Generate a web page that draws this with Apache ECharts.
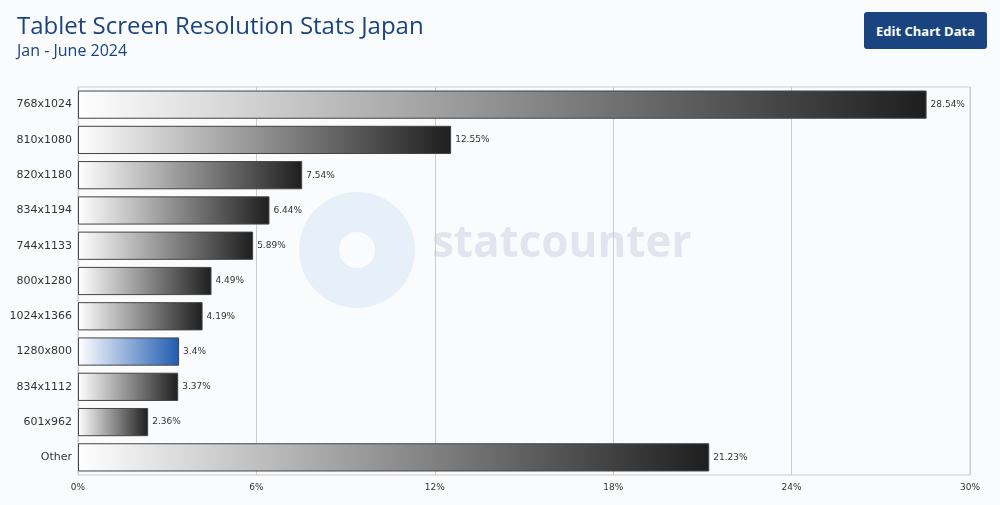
<!DOCTYPE html>
<html><head><meta charset="utf-8">
<script src="https://cdn.jsdelivr.net/npm/echarts@6/dist/echarts.min.js"></script>
<style>html,body{margin:0;padding:0;background:#fafbfd}#c{width:1000px;height:505px}
#btn{position:absolute;left:864px;top:12px;width:123px;height:37px;background:#1a4480;color:#fff;font:bold 13px "Open Sans",sans-serif;display:flex;align-items:center;justify-content:center;border-radius:3px}</style>
</head><body><div id="c"></div><div id="btn">Edit Chart Data</div>
<script>
const categories = ["768x1024","810x1080","820x1180","834x1194","744x1133","800x1280","1024x1366","1280x800","834x1112","601x962","Other"];
const values = [28.54,12.55,7.54,6.44,5.89,4.49,4.19,3.4,3.37,2.36,21.23];
const highlight = "1280x800";
const chart = echarts.init(document.getElementById('c'));
function grad(dark){return new echarts.graphic.LinearGradient(0,0,1,0,[{offset:0,color:'#ffffff'},{offset:1,color:dark}]);}
chart.setOption({
  backgroundColor:'#fafbfd',
  animation:false,
  title:{text:'Tablet Screen Resolution Stats Japan',subtext:'Jan - June 2024',left:12,top:10,
    textStyle:{fontFamily:'Open Sans',fontWeight:'normal',fontSize:24,color:'#1a4480'},
    subtextStyle:{fontFamily:'Open Sans',fontSize:16,color:'#1a4480'},itemGap:4},
  graphic:[{type:'text',left:432,top:222,z:0,style:{text:'statcounter',fontFamily:'Open Sans',fontWeight:'bold',fontSize:44,fill:'rgba(180,190,215,0.35)'}},
    {type:'ring',shape:{cx:357,cy:250,r:58,r0:18},z:0,style:{fill:'rgba(190,215,240,0.3)'}}],
  grid:{left:78,right:30,top:87,bottom:30,containLabel:false,show:true,borderColor:'#ccc',backgroundColor:'transparent'},
  xAxis:{type:'value',min:0,max:30,interval:6,axisLabel:{formatter:'{value}%',fontFamily:'DejaVu Sans',fontSize:9,color:'#333'},
    splitLine:{lineStyle:{color:'#ccc'}},axisLine:{show:false},axisTick:{show:false}},
  yAxis:{type:'category',data:categories,inverse:true,axisLabel:{fontFamily:'DejaVu Sans',fontSize:11,color:'#333',margin:6},
    axisTick:{show:false},axisLine:{lineStyle:{color:'#ccc'}}},
  series:[{type:'bar',barCategoryGap:'20%',
    data:values.map((v,i)=>({value:v,itemStyle:{color:grad(categories[i]===highlight?'#1f5bb0':'#1e1e1e')}})),
    itemStyle:{borderColor:'#444',borderWidth:1},
    label:{show:true,position:'right',formatter:'{c}%',fontFamily:'DejaVu Sans',fontSize:9,color:'#333',distance:4}}]
});
</script></body></html>
